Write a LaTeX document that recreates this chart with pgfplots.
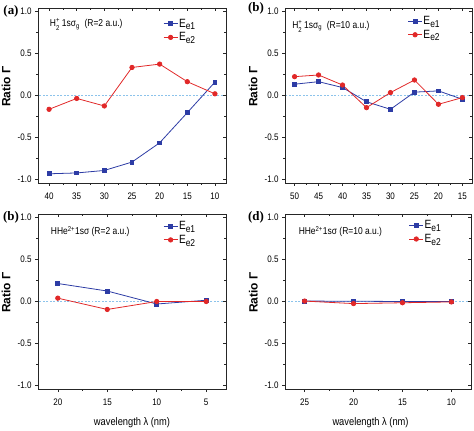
\documentclass[border=0pt]{standalone}
\usepackage{fontspec}
\setmainfont{Liberation Sans}[FakeStretch=0.85]
\newfontfamily\ratiofamily{Liberation Sans}
\newfontfamily\panelfamily{Liberation Serif}
\usepackage{pgfplots}
\pgfplotsset{compat=1.18}

\definecolor{eone}{RGB}{45,60,165}
\definecolor{etwo}{RGB}{225,40,40}
\definecolor{zeroline}{RGB}{140,195,235}

\newcommand\Ee[1]{E\raisebox{-0.45ex}{\fontsize{10}{11}\selectfont e#1}}
\newcommand\tickfont{\fontsize{9.5}{10}\selectfont}
\newcommand\legfont{\fontsize{12}{13}\selectfont}
\newcommand\notefont{\fontsize{10}{11}\selectfont}
% H2+ with the charge stacked over the subscript
\newcommand\Htwoplus{H\raisebox{-0.75ex}{\fontsize{7}{7.5}\selectfont\shortstack[l]{+\\2}}}

\pgfplotsset{
  base/.style={
    scale only axis, height=175bp,
    ymin=-1.05, ymax=1.04, x dir=reverse,
    ytick={-1,-0.5,0,0.5,1}, minor y tick num=1, minor x tick num=1,
    axis line style={line width=0.6pt, black!85},
    major tick length=3bp, minor tick length=1.7bp,
    every tick/.style={black!85, line width=0.5pt},
  },
  main/.style={
    base, tick align=outside, xtick pos=left, ytick pos=left,
    ticklabel style={font=\tickfont},
    /pgf/number format/assume math mode=true,
    yticklabel style={/pgf/number format/.cd, fixed, fixed zerofill, precision=1},
    xticklabel style={yshift=-3bp},
    ylabel={\ratiofamily\bfseries\fontsize{12}{13}\selectfont Ratio Γ},
    ylabel style={at={(axis description cs:-0.17,0.55)}, anchor=center},
    legend style={draw=none, fill=none, inner sep=0pt, font=\legfont,
      nodes={inner sep=1pt}, row sep=2bp, cells={anchor=west}},
    legend cell align=left,
    legend image code/.code={\draw[mark repeat=2,mark phase=2,#1]
      plot coordinates {(0bp,0bp) (7bp,0bp) (14bp,0bp)};},
  },
  mirror/.style={
    base, tick align=inside, xtick pos=right, ytick pos=right,
    xticklabels={}, yticklabels={},
  },
  sone/.style={eone, line width=0.8pt, mark=square*, mark size=1.9bp,
    mark options={fill=eone, draw=eone}},
  stwo/.style={etwo, line width=0.8pt, mark=*, mark size=2.2bp,
    mark options={fill=etwo, draw=etwo}},
  zero/.style={zeroline, line width=0.6pt, dash pattern=on 2pt off 1.5pt},
  wl/.style={xlabel={\fontsize{11}{12}\selectfont wavelength λ (nm)},
    xlabel style={at={(axis description cs:#1,-0.195)}, anchor=center}},
}

\begin{document}
\begin{tikzpicture}
\useasboundingbox (0bp,0bp) rectangle (474bp,431bp);

% ---------- (a) H2+ at R = 2 a.u.
\begin{axis}[main, at={(38bp,248bp)}, anchor=south west, width=188bp,
  xmin=8, xmax=42, xtick={10,15,...,40},
  legend style={at={(axis description cs:0.665,0.945)}, anchor=north west}]
  \addplot[zero, forget plot] coordinates {(8,0) (42,0)};
  \addplot[sone] coordinates {(40,-0.94) (35,-0.93) (30,-0.90) (25,-0.80) (20,-0.57) (15,-0.21) (10,0.155)};
  \addplot[stwo] coordinates {(40,-0.17) (35,-0.04) (30,-0.13) (25,0.33) (20,0.37) (15,0.16) (10,0.015)};
  \legend{\Ee1, \Ee2}
  \node[anchor=west, font=\notefont] at (axis description cs:0.045,0.905)
    {\Htwoplus\ 1sσ\textsubscript{g} \ (R=2 a.u.)};
\end{axis}
\begin{axis}[mirror, at={(38bp,248bp)}, anchor=south west, width=188bp,
  xmin=8, xmax=42, xtick={10,15,...,40}]
  \addplot[draw=none] coordinates {(10,0)};
\end{axis}

% ---------- (b) H2+ at R = 10 a.u.
\begin{axis}[main, at={(285bp,248bp)}, anchor=south west, width=187bp,
  xmin=13, xmax=52, xtick={15,20,...,50},
  legend style={at={(axis description cs:0.655,0.96)}, anchor=north west}]
  \addplot[zero, forget plot] coordinates {(13,0) (52,0)};
  \addplot[sone] coordinates {(50,0.13) (45,0.16) (40,0.09) (35,-0.08) (30,-0.17) (25,0.035) (20,0.05) (15,-0.05)};
  \addplot[stwo] coordinates {(50,0.22) (45,0.24) (40,0.12) (35,-0.15) (30,0.03) (25,0.18) (20,-0.11) (15,-0.03)};
  \legend{\Ee1, \Ee2}
  \node[anchor=west, font=\notefont] at (axis description cs:0.02,0.895)
    {\Htwoplus\ 1sσ\textsubscript{g} \ (R=10 a.u.)};
\end{axis}
\begin{axis}[mirror, at={(285bp,248bp)}, anchor=south west, width=187bp,
  xmin=13, xmax=52, xtick={15,20,...,50}]
  \addplot[draw=none] coordinates {(15,0)};
\end{axis}

% ---------- (c) HHe2+ at R = 2 a.u.
\begin{axis}[main, wl=0.5, at={(38bp,42bp)}, anchor=south west, width=188bp,
  xmin=3, xmax=22, xtick={5,10,15,20},
  legend style={at={(axis description cs:0.665,0.965)}, anchor=north west}]
  \addplot[zero, forget plot] coordinates {(3,0) (22,0)};
  \addplot[sone] coordinates {(20,0.21) (15,0.12) (10,-0.035) (5,0.01)};
  \addplot[stwo] coordinates {(20,0.035) (15,-0.10) (10,-0.005) (5,-0.005)};
  \legend{\Ee1, \Ee2}
  \node[anchor=west, font=\notefont] at (axis description cs:0.05,0.9)
    {HHe\textsuperscript{2+}1sσ (R=2 a.u.)};
\end{axis}
\begin{axis}[mirror, at={(38bp,42bp)}, anchor=south west, width=188bp,
  xmin=3, xmax=22, xtick={5,10,15,20}]
  \addplot[draw=none] coordinates {(5,0)};
\end{axis}

% ---------- (d) HHe2+ at R = 10 a.u.
\begin{axis}[main, wl=0.46, at={(285bp,42bp)}, anchor=south west, width=186bp,
  xmin=8, xmax=27, xtick={10,15,20,25},
  legend style={at={(axis description cs:0.665,0.97)}, anchor=north west}]
  \addplot[zero, forget plot] coordinates {(8,0) (27,0)};
  \addplot[sone] coordinates {(25,0.0) (20,-0.002) (15,-0.005) (10,-0.005)};
  \addplot[stwo] coordinates {(25,0.0) (20,-0.03) (15,-0.02) (10,-0.01)};
  \legend{\Ee1, \Ee2}
  \node[anchor=west, font=\notefont] at (axis description cs:0.055,0.9)
    {HHe\textsuperscript{2+}1sσ (R=10 a.u.)};
\end{axis}
\begin{axis}[mirror, at={(285bp,42bp)}, anchor=south west, width=186bp,
  xmin=8, xmax=27, xtick={10,15,20,25}]
  \addplot[draw=none] coordinates {(10,0)};
\end{axis}

% panel letters
\begin{scope}[font=\panelfamily\bfseries\fontsize{13}{14}\selectfont]
  \node at (11bp,420bp) {(a)};
  \node at (256bp,423bp) {(b)};
  \node at (11bp,214bp) {(b)};
  \node at (256bp,214bp) {(d)};
\end{scope}
\end{tikzpicture}
\end{document}
